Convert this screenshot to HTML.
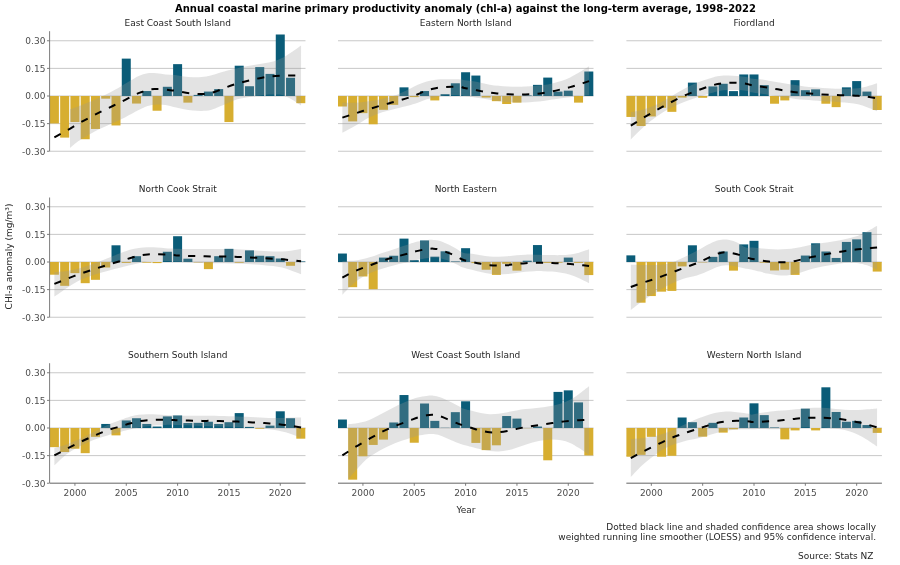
<!DOCTYPE html>
<html lang="en"><head><meta charset="utf-8"><title>Annual coastal marine primary productivity anomaly</title>
<style>html,body{margin:0;padding:0;background:#fff}body{width:900px;height:565px;overflow:hidden}svg{display:block}text{font-family:"DejaVu Sans","Liberation Sans",sans-serif}.t{font-size:9px;fill:#4d4d4d}.s{font-size:9px;fill:#262626}.g{stroke:#c2c2c2;stroke-width:.9}.a{stroke:#6e6e6e;stroke-width:.9;fill:none}.b{fill:#999;fill-opacity:.28}.l{fill:none;stroke:#000;stroke-width:2;stroke-dasharray:7.2 8.3}</style></head><body>
<svg width="900" height="565" viewBox="0 0 900 565">
<rect width="900" height="565" fill="#fff"/>
<text x="465.5" y="11.6" text-anchor="middle" font-size="10" font-weight="bold" fill="#000">Annual coastal marine primary productivity anomaly (chl-a) against the long-term average, 1998–2022</text>
<g>
<text class="s" x="177.75" y="26" text-anchor="middle">East Coast South Island</text>
<line class="g" x1="50" x2="305.5" y1="40.76" y2="40.76"/>
<line class="g" x1="50" x2="305.5" y1="68.38" y2="68.38"/>
<line class="g" x1="50" x2="305.5" y1="96" y2="96"/>
<line class="g" x1="50" x2="305.5" y1="123.62" y2="123.62"/>
<line class="g" x1="50" x2="305.5" y1="151.24" y2="151.24"/>
<rect x="50" y="96" width="8.9" height="27.44" fill="#D7AE30"/>
<rect x="60.17" y="96" width="9" height="41.61" fill="#D7AE30"/>
<rect x="70.43" y="96" width="9" height="26.05" fill="#D7AE30"/>
<rect x="80.7" y="96" width="9" height="43.22" fill="#D7AE30"/>
<rect x="90.97" y="96" width="9" height="32.96" fill="#D7AE30"/>
<rect x="101.23" y="96" width="9" height="2.67" fill="#D7AE30"/>
<rect x="111.5" y="96" width="9" height="29.46" fill="#D7AE30"/>
<rect x="121.77" y="58.62" width="9" height="37.38" fill="#0A5C78"/>
<rect x="132.04" y="96" width="9" height="7.55" fill="#D7AE30"/>
<rect x="142.3" y="91.03" width="9" height="4.97" fill="#0A5C78"/>
<rect x="152.57" y="96" width="9" height="14.73" fill="#D7AE30"/>
<rect x="162.84" y="86.79" width="9" height="9.21" fill="#0A5C78"/>
<rect x="173.1" y="64.14" width="9" height="31.86" fill="#0A5C78"/>
<rect x="183.37" y="96" width="9" height="6.63" fill="#D7AE30"/>
<rect x="193.64" y="94.9" width="9" height="1.1" fill="#0A5C78"/>
<rect x="203.91" y="91.58" width="9" height="4.42" fill="#0A5C78"/>
<rect x="214.17" y="89.09" width="9" height="6.91" fill="#0A5C78"/>
<rect x="224.44" y="96" width="9" height="26.05" fill="#D7AE30"/>
<rect x="234.71" y="65.71" width="9" height="30.29" fill="#0A5C78"/>
<rect x="244.97" y="86.24" width="9" height="9.76" fill="#0A5C78"/>
<rect x="255.24" y="67.09" width="9" height="28.91" fill="#0A5C78"/>
<rect x="265.51" y="73.9" width="9" height="22.1" fill="#0A5C78"/>
<rect x="275.77" y="34.5" width="9" height="61.5" fill="#0A5C78"/>
<rect x="286.04" y="77.77" width="9" height="18.23" fill="#0A5C78"/>
<rect x="296.31" y="96" width="9" height="7.18" fill="#D7AE30"/>
<path class="b" d="M69.99 109.18C71.78 108.54 76.69 106.91 80.7 105.38C84.72 103.86 89.63 101.96 94.09 100.03C98.55 98.1 103.02 96.05 107.48 93.79C111.94 91.52 117.15 88.55 120.87 86.43C124.59 84.31 126.82 82.82 129.79 81.08C132.77 79.33 135.74 77.25 138.72 75.95C141.69 74.65 144.67 73.72 147.64 73.27C150.62 72.82 153.6 73.08 156.57 73.27C159.55 73.46 162.42 74.09 165.5 74.39C168.57 74.68 171.93 74.68 175 75.05C178.07 75.43 180.95 76.24 183.93 76.62C186.9 76.99 189.88 77.21 192.85 77.28C195.83 77.36 198.8 77.36 201.78 77.06C204.75 76.76 207.73 76.21 210.7 75.5C213.68 74.79 216.65 73.68 219.63 72.82C222.6 71.97 225.58 71.15 228.55 70.37C231.53 69.59 234.5 68.81 237.48 68.14C240.45 67.47 243.43 66.92 246.4 66.36C249.38 65.8 252.36 65.32 255.33 64.8C258.31 64.28 261.28 63.79 264.26 63.24C267.23 62.68 270.21 62.31 273.18 61.45C276.16 60.6 279.13 59.59 282.11 58.11C285.08 56.62 287.87 54.65 291.03 52.53C294.19 50.41 299.4 46.58 301.07 45.39L301.07 105.38C299.4 104.31 294.19 100.66 291.03 98.92C287.87 97.17 285.08 95.65 282.11 94.9C279.13 94.16 276.16 94.46 273.18 94.46C270.21 94.46 267.23 94.64 264.26 94.9C261.28 95.16 258.31 95.57 255.33 96.02C252.36 96.46 249.38 97.02 246.4 97.58C243.43 98.14 240.45 98.51 237.48 99.36C234.5 100.22 231.53 101.52 228.55 102.71C225.58 103.9 222.6 105.27 219.63 106.5C216.65 107.73 213.68 109.32 210.7 110.07C207.73 110.81 204.75 110.88 201.78 110.96C198.8 111.03 195.83 110.81 192.85 110.51C189.88 110.22 186.9 109.73 183.93 109.18C180.95 108.62 178.07 107.87 175 107.17C171.93 106.46 168.57 105.38 165.5 104.94C162.42 104.49 159.55 104.31 156.57 104.49C153.6 104.68 150.62 105.12 147.64 106.05C144.67 106.98 142.44 108.21 138.72 110.07C135 111.93 129.79 114.97 125.33 117.2C120.87 119.43 116.4 121.4 111.94 123.45C107.48 125.49 103.02 127.24 98.55 129.47C94.09 131.7 88.88 134.6 85.17 136.83C81.45 139.06 78.77 140.99 76.24 142.85C73.71 144.71 71.03 147.12 69.99 147.98Z"/>
<path class="l" d="M54.37 137.27C56.53 136.08 62.93 132.63 67.31 130.14C71.7 127.65 76.24 124.82 80.7 122.33C85.17 119.84 89.63 117.5 94.09 115.2C98.55 112.89 103.02 110.7 107.48 108.51C111.94 106.31 116.4 104.27 120.87 102.04C125.33 99.81 130.91 96.76 134.26 95.13C137.6 93.49 138.72 93.08 140.95 92.23C143.18 91.37 145.41 90.52 147.64 90C149.88 89.48 152.11 89.25 154.34 89.1C156.57 88.96 158.43 88.92 161.03 89.1C163.64 89.29 167.63 89.96 169.96 90.22C172.29 90.48 173.04 90.37 175 90.67C176.96 90.96 179.09 91.56 181.69 92C184.3 92.45 187.64 93.01 190.62 93.34C193.6 93.68 196.57 93.97 199.55 94.01C202.52 94.05 205.5 94.08 208.47 93.56C211.45 93.04 214.42 91.93 217.4 90.89C220.37 89.85 223.35 88.44 226.32 87.32C229.3 86.21 232.27 85.13 235.25 84.2C238.22 83.27 241.2 82.53 244.17 81.75C247.15 80.96 250.12 80.18 253.1 79.52C256.07 78.85 259.05 78.25 262.02 77.73C265 77.21 267.98 76.73 270.95 76.39C273.93 76.06 276.9 75.87 279.88 75.72C282.85 75.58 286.2 75.54 288.8 75.5C291.4 75.46 294.38 75.5 295.5 75.5"/>
<line class="a" x1="49.6" x2="49.6" y1="31.2" y2="151.2"/>
<line class="a" x1="47" x2="49.6" y1="40.76" y2="40.76"/>
<text class="t" x="45.4" y="44.06" text-anchor="end">0.30</text>
<line class="a" x1="47" x2="49.6" y1="68.38" y2="68.38"/>
<text class="t" x="45.4" y="71.68" text-anchor="end">0.15</text>
<line class="a" x1="47" x2="49.6" y1="96" y2="96"/>
<text class="t" x="45.4" y="99.3" text-anchor="end">0.00</text>
<line class="a" x1="47" x2="49.6" y1="123.62" y2="123.62"/>
<text class="t" x="45.4" y="126.92" text-anchor="end">-0.15</text>
<line class="a" x1="47" x2="49.6" y1="151.24" y2="151.24"/>
<text class="t" x="45.4" y="154.54" text-anchor="end">-0.30</text>
</g>
<g>
<text class="s" x="465.75" y="26" text-anchor="middle">Eastern North Island</text>
<line class="g" x1="338" x2="593.5" y1="40.76" y2="40.76"/>
<line class="g" x1="338" x2="593.5" y1="68.38" y2="68.38"/>
<line class="g" x1="338" x2="593.5" y1="96" y2="96"/>
<line class="g" x1="338" x2="593.5" y1="123.62" y2="123.62"/>
<line class="g" x1="338" x2="593.5" y1="151.24" y2="151.24"/>
<rect x="338" y="96" width="8.9" height="10.5" fill="#D7AE30"/>
<rect x="348.17" y="96" width="9" height="25.41" fill="#D7AE30"/>
<rect x="358.43" y="96" width="9" height="17.12" fill="#D7AE30"/>
<rect x="368.7" y="96" width="9" height="28.28" fill="#D7AE30"/>
<rect x="378.97" y="96" width="9" height="13.81" fill="#D7AE30"/>
<rect x="389.23" y="96" width="9" height="8.84" fill="#D7AE30"/>
<rect x="399.5" y="87.35" width="9" height="8.65" fill="#0A5C78"/>
<rect x="409.77" y="96" width="9" height="1.1" fill="#D7AE30"/>
<rect x="420.04" y="91.03" width="9" height="4.97" fill="#0A5C78"/>
<rect x="430.3" y="96" width="9" height="4.42" fill="#D7AE30"/>
<rect x="440.57" y="94.16" width="9" height="1.84" fill="#0A5C78"/>
<rect x="450.84" y="83.29" width="9" height="12.71" fill="#0A5C78"/>
<rect x="461.1" y="72.25" width="9" height="23.75" fill="#0A5C78"/>
<rect x="471.37" y="75.56" width="9" height="20.44" fill="#0A5C78"/>
<rect x="481.64" y="96" width="9" height="1.57" fill="#D7AE30"/>
<rect x="491.9" y="96" width="9" height="5.16" fill="#D7AE30"/>
<rect x="502.17" y="96" width="9" height="8.01" fill="#D7AE30"/>
<rect x="512.44" y="96" width="9" height="6.63" fill="#D7AE30"/>
<rect x="522.71" y="95.45" width="9" height="0.55" fill="#0A5C78"/>
<rect x="532.97" y="84.86" width="9" height="11.14" fill="#0A5C78"/>
<rect x="543.24" y="77.59" width="9" height="18.41" fill="#0A5C78"/>
<rect x="553.51" y="91.58" width="9" height="4.42" fill="#0A5C78"/>
<rect x="563.77" y="90.66" width="9" height="5.34" fill="#0A5C78"/>
<rect x="574.04" y="96" width="9" height="6.63" fill="#D7AE30"/>
<rect x="584.31" y="71.51" width="9" height="24.49" fill="#0A5C78"/>
<path class="b" d="M342.37 102.71C344.53 102.71 350.93 102.97 355.31 102.71C359.7 102.45 364.24 101.78 368.7 101.15C373.17 100.52 377.63 99.88 382.09 98.92C386.55 97.95 391.02 96.95 395.48 95.35C399.94 93.75 405.15 91.07 408.87 89.33C412.59 87.58 414.82 86.17 417.79 84.87C420.77 83.57 423.74 82.38 426.72 81.52C429.69 80.67 432.67 80.11 435.64 79.74C438.62 79.37 441.6 79.37 444.57 79.29C447.55 79.22 450.52 79.25 453.5 79.29C456.47 79.33 460.84 79.4 462.42 79.52C464.01 79.63 461.42 79.7 463 79.96C464.58 80.22 468.95 80.59 471.93 81.08C474.9 81.56 477.88 82.27 480.85 82.86C483.83 83.45 486.8 84.16 489.78 84.64C492.75 85.13 495.73 85.46 498.7 85.76C501.68 86.06 504.65 86.28 507.63 86.43C510.6 86.58 513.58 86.65 516.55 86.65C519.53 86.65 522.5 86.54 525.48 86.43C528.45 86.32 531.43 86.21 534.4 85.98C537.38 85.76 540.36 85.5 543.33 85.09C546.31 84.68 549.28 84.2 552.26 83.53C555.23 82.86 558.21 82.08 561.18 81.08C564.16 80.07 567.13 78.92 570.11 77.51C573.08 76.1 575.87 74.46 579.03 72.6C582.19 70.74 587.4 67.4 589.07 66.36L589.07 95.35C587.4 95.46 582.19 95.72 579.03 96.02C575.87 96.32 573.08 96.76 570.11 97.13C567.13 97.5 564.16 97.84 561.18 98.25C558.21 98.66 555.23 99.14 552.26 99.59C549.28 100.03 546.31 100.55 543.33 100.92C540.36 101.3 537.38 101.56 534.4 101.82C531.43 102.08 528.45 102.37 525.48 102.48C522.5 102.6 519.53 102.56 516.55 102.48C513.58 102.41 510.6 102.26 507.63 102.04C504.65 101.82 501.68 101.52 498.7 101.15C495.73 100.78 492.75 100.29 489.78 99.81C486.8 99.33 483.83 98.73 480.85 98.25C477.88 97.76 474.9 97.32 471.93 96.91C468.95 96.5 464.58 96.05 463 95.79C461.42 95.53 464.01 95.5 462.42 95.35C460.84 95.2 456.47 94.9 453.5 94.9C450.52 94.9 447.55 94.98 444.57 95.35C441.6 95.72 438.62 96.46 435.64 97.13C432.67 97.8 429.69 98.43 426.72 99.36C423.74 100.29 420.77 101.7 417.79 102.71C414.82 103.71 412.59 104.38 408.87 105.38C405.15 106.39 399.94 107.58 395.48 108.73C391.02 109.88 386.55 110.81 382.09 112.3C377.63 113.78 373.17 115.42 368.7 117.65C364.24 119.88 359.7 123.15 355.31 125.68C350.93 128.21 344.53 131.62 342.37 132.81Z"/>
<path class="l" d="M342.37 117.65C344.53 116.94 350.93 114.82 355.31 113.41C359.7 112 364.24 110.55 368.7 109.18C373.17 107.8 377.63 106.42 382.09 105.16C386.55 103.9 391.02 102.86 395.48 101.59C399.94 100.33 405.15 98.81 408.87 97.58C412.59 96.35 414.82 95.42 417.79 94.23C420.77 93.04 423.74 91.45 426.72 90.44C429.69 89.44 432.67 88.77 435.64 88.21C438.62 87.65 441.6 87.32 444.57 87.1C447.55 86.87 450.52 86.84 453.5 86.87C456.47 86.91 460.84 87.17 462.42 87.32C464.01 87.47 461.42 87.43 463 87.77C464.58 88.1 468.95 88.77 471.93 89.33C474.9 89.88 477.88 90.55 480.85 91.11C483.83 91.67 486.8 92.26 489.78 92.67C492.75 93.08 495.73 93.3 498.7 93.56C501.68 93.82 504.65 94.08 507.63 94.23C510.6 94.38 513.58 94.42 516.55 94.46C519.53 94.49 522.5 94.53 525.48 94.46C528.45 94.38 531.43 94.27 534.4 94.01C537.38 93.75 540.36 93.34 543.33 92.9C546.31 92.45 549.28 91.93 552.26 91.33C555.23 90.74 558.21 90.03 561.18 89.33C564.16 88.62 567.13 87.92 570.11 87.1C573.08 86.28 575.87 85.42 579.03 84.42C582.19 83.42 587.4 81.63 589.07 81.08"/>
</g>
<g>
<text class="s" x="754.15" y="26" text-anchor="middle">Fiordland</text>
<line class="g" x1="626.4" x2="881.9" y1="40.76" y2="40.76"/>
<line class="g" x1="626.4" x2="881.9" y1="68.38" y2="68.38"/>
<line class="g" x1="626.4" x2="881.9" y1="96" y2="96"/>
<line class="g" x1="626.4" x2="881.9" y1="123.62" y2="123.62"/>
<line class="g" x1="626.4" x2="881.9" y1="151.24" y2="151.24"/>
<rect x="626.4" y="96" width="8.9" height="20.94" fill="#D7AE30"/>
<rect x="636.57" y="96" width="9" height="30.01" fill="#D7AE30"/>
<rect x="646.83" y="96" width="9" height="20.44" fill="#D7AE30"/>
<rect x="657.1" y="96" width="9" height="11.78" fill="#D7AE30"/>
<rect x="667.37" y="96" width="9" height="15.84" fill="#D7AE30"/>
<rect x="677.63" y="96" width="9" height="1.57" fill="#D7AE30"/>
<rect x="687.9" y="82.63" width="9" height="13.37" fill="#0A5C78"/>
<rect x="698.17" y="96" width="9" height="1.79" fill="#D7AE30"/>
<rect x="708.44" y="86.43" width="9" height="9.57" fill="#0A5C78"/>
<rect x="718.7" y="83.76" width="9" height="12.24" fill="#0A5C78"/>
<rect x="728.97" y="91.1" width="9" height="4.9" fill="#0A5C78"/>
<rect x="739.24" y="74.46" width="9" height="21.54" fill="#0A5C78"/>
<rect x="749.5" y="74.46" width="9" height="21.54" fill="#0A5C78"/>
<rect x="759.77" y="85.14" width="9" height="10.86" fill="#0A5C78"/>
<rect x="770.04" y="96" width="9" height="7.73" fill="#D7AE30"/>
<rect x="780.3" y="96" width="9" height="4.42" fill="#D7AE30"/>
<rect x="790.57" y="80.16" width="9" height="15.84" fill="#0A5C78"/>
<rect x="800.84" y="90.2" width="9" height="5.8" fill="#0A5C78"/>
<rect x="811.11" y="89.37" width="9" height="6.63" fill="#0A5C78"/>
<rect x="821.37" y="96" width="9" height="7.73" fill="#D7AE30"/>
<rect x="831.64" y="96" width="9" height="11.14" fill="#D7AE30"/>
<rect x="841.91" y="87.35" width="9" height="8.65" fill="#0A5C78"/>
<rect x="852.17" y="81.09" width="9" height="14.91" fill="#0A5C78"/>
<rect x="862.44" y="91.58" width="9" height="4.42" fill="#0A5C78"/>
<rect x="872.71" y="96" width="9" height="13.99" fill="#D7AE30"/>
<path class="b" d="M630.82 112.3C632.9 111.85 639 110.92 643.31 109.62C647.63 108.32 652.24 106.57 656.7 104.49C661.17 102.41 665.63 99.66 670.09 97.13C674.55 94.61 679.02 91.71 683.48 89.33C687.94 86.95 692.4 84.72 696.87 82.86C701.33 81 706.54 79.33 710.26 78.18C713.98 77.02 716.21 76.39 719.18 75.95C722.16 75.5 725.13 75.5 728.11 75.5C731.08 75.5 734.06 75.69 737.03 75.95C740.01 76.21 743.63 76.65 745.96 77.06C748.29 77.47 748.67 78.03 751 78.4C753.33 78.77 756.95 78.92 759.93 79.29C762.9 79.66 765.88 80.15 768.85 80.63C771.83 81.11 774.8 81.67 777.78 82.19C780.75 82.71 783.73 83.27 786.7 83.75C789.68 84.24 792.65 84.64 795.63 85.09C798.6 85.54 801.58 86.06 804.55 86.43C807.53 86.8 810.5 87.06 813.48 87.32C816.45 87.58 819.43 87.8 822.4 87.99C825.38 88.18 828.36 88.32 831.33 88.44C834.31 88.55 837.28 88.62 840.26 88.66C843.23 88.7 846.21 88.73 849.18 88.66C852.16 88.58 855.13 88.58 858.11 88.21C861.08 87.84 863.87 87.25 867.03 86.43C870.19 85.61 875.4 83.83 877.07 83.31L877.07 111.18C875.4 110.51 870.19 108.32 867.03 107.17C863.87 106.02 861.08 104.98 858.11 104.27C855.13 103.56 852.16 103.27 849.18 102.93C846.21 102.6 843.23 102.48 840.26 102.26C837.28 102.04 834.31 101.78 831.33 101.59C828.36 101.41 825.38 101.33 822.4 101.15C819.43 100.96 816.45 100.7 813.48 100.48C810.5 100.25 807.53 100.07 804.55 99.81C801.58 99.55 798.6 99.25 795.63 98.92C792.65 98.58 789.68 98.21 786.7 97.8C783.73 97.39 780.75 96.95 777.78 96.46C774.8 95.98 771.83 95.39 768.85 94.9C765.88 94.42 762.9 94.01 759.93 93.56C756.95 93.12 753.33 92.71 751 92.23C748.67 91.74 748.29 91.04 745.96 90.67C743.63 90.29 740.01 90.11 737.03 90C734.06 89.88 731.08 89.85 728.11 90C725.13 90.15 722.16 90.33 719.18 90.89C716.21 91.45 713.98 92.23 710.26 93.34C706.54 94.46 701.33 96.09 696.87 97.58C692.4 99.07 687.94 100.48 683.48 102.26C679.02 104.05 674.55 105.9 670.09 108.28C665.63 110.66 661.17 113.38 656.7 116.53C652.24 119.69 647.63 123.41 643.31 127.24C639 131.07 632.9 137.46 630.82 139.5Z"/>
<path class="l" d="M630.82 125.68C632.9 124.38 639 120.47 643.31 117.87C647.63 115.27 652.24 112.59 656.7 110.07C661.17 107.54 665.63 105.05 670.09 102.71C674.55 100.37 679.02 98.02 683.48 96.02C687.94 94.01 692.4 92.34 696.87 90.67C701.33 88.99 706.54 87.13 710.26 85.98C713.98 84.83 716.21 84.27 719.18 83.75C722.16 83.23 725.13 83.01 728.11 82.86C731.08 82.71 734.06 82.71 737.03 82.86C740.01 83.01 743.63 83.38 745.96 83.75C748.29 84.12 748.67 84.64 751 85.09C753.33 85.54 756.95 85.98 759.93 86.43C762.9 86.87 765.88 87.28 768.85 87.77C771.83 88.25 774.8 88.81 777.78 89.33C780.75 89.85 783.73 90.41 786.7 90.89C789.68 91.37 792.65 91.85 795.63 92.23C798.6 92.6 801.58 92.86 804.55 93.12C807.53 93.38 810.5 93.56 813.48 93.79C816.45 94.01 819.43 94.27 822.4 94.46C825.38 94.64 828.36 94.79 831.33 94.9C834.31 95.01 837.28 95.05 840.26 95.13C843.23 95.2 846.21 95.24 849.18 95.35C852.16 95.46 855.13 95.57 858.11 95.79C861.08 96.02 863.87 96.28 867.03 96.69C870.19 97.1 875.4 97.99 877.07 98.25"/>
</g>
<g>
<text class="s" x="177.75" y="192.3" text-anchor="middle">North Cook Strait</text>
<line class="g" x1="50" x2="305.5" y1="206.76" y2="206.76"/>
<line class="g" x1="50" x2="305.5" y1="234.38" y2="234.38"/>
<line class="g" x1="50" x2="305.5" y1="262" y2="262"/>
<line class="g" x1="50" x2="305.5" y1="289.62" y2="289.62"/>
<line class="g" x1="50" x2="305.5" y1="317.24" y2="317.24"/>
<rect x="50" y="262" width="8.9" height="12.71" fill="#D7AE30"/>
<rect x="60.17" y="262" width="9" height="23.83" fill="#D7AE30"/>
<rect x="70.43" y="262" width="9" height="11.14" fill="#D7AE30"/>
<rect x="80.7" y="262" width="9" height="21.18" fill="#D7AE30"/>
<rect x="90.97" y="262" width="9" height="17.82" fill="#D7AE30"/>
<rect x="101.23" y="262" width="9" height="5.52" fill="#D7AE30"/>
<rect x="111.5" y="245.3" width="9" height="16.7" fill="#0A5C78"/>
<rect x="121.77" y="262" width="9" height="0.92" fill="#D7AE30"/>
<rect x="132.04" y="256.2" width="9" height="5.8" fill="#0A5C78"/>
<rect x="142.3" y="262" width="9" height="0.66" fill="#D7AE30"/>
<rect x="152.57" y="262" width="9" height="1.1" fill="#D7AE30"/>
<rect x="162.84" y="251.76" width="9" height="10.24" fill="#0A5C78"/>
<rect x="173.1" y="236.22" width="9" height="25.78" fill="#0A5C78"/>
<rect x="183.37" y="258.69" width="9" height="3.31" fill="#0A5C78"/>
<rect x="193.64" y="262" width="9" height="0.37" fill="#D7AE30"/>
<rect x="203.91" y="262" width="9" height="7.13" fill="#D7AE30"/>
<rect x="214.17" y="256.2" width="9" height="5.8" fill="#0A5C78"/>
<rect x="224.44" y="248.85" width="9" height="13.15" fill="#0A5C78"/>
<rect x="234.71" y="262" width="9" height="0.74" fill="#D7AE30"/>
<rect x="244.97" y="250.4" width="9" height="11.6" fill="#0A5C78"/>
<rect x="255.24" y="255.74" width="9" height="6.26" fill="#0A5C78"/>
<rect x="265.51" y="256.2" width="9" height="5.8" fill="#0A5C78"/>
<rect x="275.77" y="258.5" width="9" height="3.5" fill="#0A5C78"/>
<rect x="286.04" y="262" width="9" height="3.79" fill="#D7AE30"/>
<rect x="296.31" y="261.45" width="9" height="0.55" fill="#0A5C78"/>
<path class="b" d="M54.37 272.05C56.53 271.87 62.93 271.61 67.31 270.94C71.7 270.27 76.24 269.27 80.7 268.04C85.17 266.81 89.63 265.21 94.09 263.58C98.55 261.94 103.02 259.97 107.48 258.23C111.94 256.48 117.15 254.51 120.87 253.1C124.59 251.68 126.82 250.61 129.79 249.75C132.77 248.9 135.74 248.38 138.72 247.97C141.69 247.56 144.67 247.37 147.64 247.3C150.62 247.22 153.6 247.37 156.57 247.52C159.55 247.67 162.52 248.01 165.5 248.19C168.47 248.38 172.84 248.53 174.42 248.64C176.01 248.75 173.42 248.79 175 248.86C176.58 248.93 180.95 249.05 183.93 249.08C186.9 249.12 189.88 249.08 192.85 249.08C195.83 249.08 198.8 249.08 201.78 249.08C204.75 249.08 207.73 249.08 210.7 249.08C213.68 249.08 216.65 249.08 219.63 249.08C222.6 249.08 225.58 249.05 228.55 249.08C231.53 249.12 234.5 249.19 237.48 249.31C240.45 249.42 243.43 249.57 246.4 249.75C249.38 249.94 252.36 250.2 255.33 250.42C258.31 250.64 261.28 250.9 264.26 251.09C267.23 251.28 270.21 251.46 273.18 251.54C276.16 251.61 279.13 251.68 282.11 251.54C285.08 251.39 287.87 251.13 291.03 250.64C294.19 250.16 299.4 248.97 301.07 248.64L301.07 274.28C299.4 273.65 294.19 271.61 291.03 270.49C287.87 269.38 285.08 268.34 282.11 267.59C279.13 266.85 276.16 266.44 273.18 266.03C270.21 265.62 267.23 265.4 264.26 265.14C261.28 264.88 258.31 264.66 255.33 264.47C252.36 264.28 249.38 264.14 246.4 264.02C243.43 263.91 240.45 263.88 237.48 263.8C234.5 263.73 231.53 263.65 228.55 263.58C225.58 263.5 222.6 263.43 219.63 263.36C216.65 263.28 213.68 263.21 210.7 263.13C207.73 263.06 204.75 263.02 201.78 262.91C198.8 262.8 195.83 262.61 192.85 262.46C189.88 262.32 186.9 262.17 183.93 262.02C180.95 261.87 176.58 261.68 175 261.57C173.42 261.46 176.01 261.46 174.42 261.35C172.84 261.24 168.47 260.98 165.5 260.9C162.52 260.83 159.55 260.79 156.57 260.9C153.6 261.01 150.62 261.2 147.64 261.57C144.67 261.94 141.69 262.5 138.72 263.13C135.74 263.76 132.77 264.62 129.79 265.36C126.82 266.11 124.59 266.66 120.87 267.59C117.15 268.52 111.94 269.75 107.48 270.94C103.02 272.13 98.55 273.24 94.09 274.73C89.63 276.22 85.17 277.7 80.7 279.86C76.24 282.01 71.7 284.88 67.31 287.66C62.93 290.45 56.53 295.1 54.37 296.58Z"/>
<path class="l" d="M54.37 283.87C56.53 283.02 62.93 280.45 67.31 278.74C71.7 277.03 76.24 275.21 80.7 273.61C85.17 272.02 89.63 270.6 94.09 269.15C98.55 267.7 103.02 266.29 107.48 264.92C111.94 263.54 117.15 262.02 120.87 260.9C124.59 259.79 126.82 259.08 129.79 258.23C132.77 257.37 135.74 256.41 138.72 255.77C141.69 255.14 144.67 254.7 147.64 254.44C150.62 254.18 153.6 254.21 156.57 254.21C159.55 254.21 162.52 254.32 165.5 254.44C168.47 254.55 172.84 254.73 174.42 254.88C176.01 255.03 173.42 255.18 175 255.33C176.58 255.48 180.95 255.66 183.93 255.77C186.9 255.88 189.88 255.92 192.85 256C195.83 256.07 198.8 256.15 201.78 256.22C204.75 256.29 207.73 256.41 210.7 256.44C213.68 256.48 216.65 256.41 219.63 256.44C222.6 256.48 225.58 256.59 228.55 256.67C231.53 256.74 234.5 256.78 237.48 256.89C240.45 257 243.43 257.19 246.4 257.33C249.38 257.48 252.36 257.63 255.33 257.78C258.31 257.93 261.28 258.08 264.26 258.23C267.23 258.38 270.21 258.49 273.18 258.67C276.16 258.86 279.13 259.08 282.11 259.34C285.08 259.6 287.87 259.9 291.03 260.23C294.19 260.57 299.4 261.16 301.07 261.35"/>
<line class="a" x1="49.6" x2="49.6" y1="197.5" y2="317.2"/>
<line class="a" x1="47" x2="49.6" y1="206.76" y2="206.76"/>
<text class="t" x="45.4" y="210.06" text-anchor="end">0.30</text>
<line class="a" x1="47" x2="49.6" y1="234.38" y2="234.38"/>
<text class="t" x="45.4" y="237.68" text-anchor="end">0.15</text>
<line class="a" x1="47" x2="49.6" y1="262" y2="262"/>
<text class="t" x="45.4" y="265.3" text-anchor="end">0.00</text>
<line class="a" x1="47" x2="49.6" y1="289.62" y2="289.62"/>
<text class="t" x="45.4" y="292.92" text-anchor="end">-0.15</text>
<line class="a" x1="47" x2="49.6" y1="317.24" y2="317.24"/>
<text class="t" x="45.4" y="320.54" text-anchor="end">-0.30</text>
</g>
<g>
<text class="s" x="465.75" y="192.3" text-anchor="middle">North Eastern</text>
<line class="g" x1="338" x2="593.5" y1="206.76" y2="206.76"/>
<line class="g" x1="338" x2="593.5" y1="234.38" y2="234.38"/>
<line class="g" x1="338" x2="593.5" y1="262" y2="262"/>
<line class="g" x1="338" x2="593.5" y1="289.62" y2="289.62"/>
<line class="g" x1="338" x2="593.5" y1="317.24" y2="317.24"/>
<rect x="338" y="253.53" width="8.9" height="8.47" fill="#0A5C78"/>
<rect x="348.17" y="262" width="9" height="25.17" fill="#D7AE30"/>
<rect x="358.43" y="262" width="9" height="14.47" fill="#D7AE30"/>
<rect x="368.7" y="262" width="9" height="27.18" fill="#D7AE30"/>
<rect x="378.97" y="257.58" width="9" height="4.42" fill="#0A5C78"/>
<rect x="389.23" y="255.74" width="9" height="6.26" fill="#0A5C78"/>
<rect x="399.5" y="238.62" width="9" height="23.38" fill="#0A5C78"/>
<rect x="409.77" y="260.16" width="9" height="1.84" fill="#0A5C78"/>
<rect x="420.04" y="240.46" width="9" height="21.54" fill="#0A5C78"/>
<rect x="430.3" y="256.66" width="9" height="5.34" fill="#0A5C78"/>
<rect x="440.57" y="251.32" width="9" height="10.68" fill="#0A5C78"/>
<rect x="450.84" y="261.45" width="9" height="0.55" fill="#0A5C78"/>
<rect x="461.1" y="248.19" width="9" height="13.81" fill="#0A5C78"/>
<rect x="471.37" y="262" width="9" height="1.1" fill="#D7AE30"/>
<rect x="481.64" y="262" width="9" height="7.73" fill="#D7AE30"/>
<rect x="491.9" y="262" width="9" height="12.89" fill="#D7AE30"/>
<rect x="502.17" y="262" width="9" height="1.84" fill="#D7AE30"/>
<rect x="512.44" y="262" width="9" height="8.65" fill="#D7AE30"/>
<rect x="522.71" y="260.71" width="9" height="1.29" fill="#0A5C78"/>
<rect x="532.97" y="245.06" width="9" height="16.94" fill="#0A5C78"/>
<rect x="543.24" y="262" width="9" height="0.92" fill="#D7AE30"/>
<rect x="553.51" y="262" width="9" height="0.74" fill="#D7AE30"/>
<rect x="563.77" y="257.58" width="9" height="4.42" fill="#0A5C78"/>
<rect x="574.04" y="262" width="9" height="0.92" fill="#D7AE30"/>
<rect x="584.31" y="262" width="9" height="13.07" fill="#D7AE30"/>
<path class="b" d="M342.37 260.9C344.53 260.83 350.93 261.01 355.31 260.46C359.7 259.9 364.24 258.78 368.7 257.56C373.17 256.33 377.63 254.58 382.09 253.1C386.55 251.61 391.02 250.12 395.48 248.64C399.94 247.15 405.15 245.37 408.87 244.18C412.59 242.99 414.82 242.17 417.79 241.5C420.77 240.83 424.12 240.42 426.72 240.16C429.32 239.9 431.18 239.79 433.41 239.94C435.64 240.09 437.5 240.24 440.11 241.05C442.71 241.87 446.06 243.4 449.03 244.85C452.01 246.3 455.63 248.45 457.96 249.75C460.29 251.05 460.67 251.98 463 252.65C465.33 253.32 468.95 253.32 471.93 253.77C474.9 254.21 477.88 254.88 480.85 255.33C483.83 255.77 486.8 256.22 489.78 256.44C492.75 256.67 495.73 256.7 498.7 256.67C501.68 256.63 504.65 256.44 507.63 256.22C510.6 256 513.58 255.59 516.55 255.33C519.53 255.07 522.5 254.77 525.48 254.66C528.45 254.55 531.43 254.62 534.4 254.66C537.38 254.7 540.36 254.81 543.33 254.88C546.31 254.96 549.28 255.07 552.26 255.1C555.23 255.14 558.21 255.22 561.18 255.1C564.16 254.99 567.13 254.84 570.11 254.44C573.08 254.03 575.87 253.51 579.03 252.65C582.19 251.8 587.4 249.86 589.07 249.31L589.07 283.2C587.4 282.39 582.19 279.71 579.03 278.3C575.87 276.88 573.08 275.66 570.11 274.73C567.13 273.8 564.16 273.24 561.18 272.72C558.21 272.2 555.23 271.87 552.26 271.61C549.28 271.35 546.31 271.24 543.33 271.16C540.36 271.09 537.38 271.05 534.4 271.16C531.43 271.27 528.45 271.53 525.48 271.83C522.5 272.13 519.53 272.57 516.55 272.95C513.58 273.32 510.6 273.8 507.63 274.06C504.65 274.32 501.68 274.54 498.7 274.51C495.73 274.47 492.75 274.25 489.78 273.84C486.8 273.43 483.83 272.72 480.85 272.05C477.88 271.38 474.9 270.57 471.93 269.82C468.95 269.08 465.33 268.41 463 267.59C460.67 266.78 460.29 266.03 457.96 264.92C455.63 263.8 452.01 262.02 449.03 260.9C446.06 259.79 442.71 258.78 440.11 258.23C437.5 257.67 435.64 257.56 433.41 257.56C431.18 257.56 429.32 257.85 426.72 258.23C424.12 258.6 420.77 259.16 417.79 259.79C414.82 260.42 412.59 261.16 408.87 262.02C405.15 262.87 399.94 263.8 395.48 264.92C391.02 266.03 386.55 267.22 382.09 268.71C377.63 270.19 373.17 271.61 368.7 273.84C364.24 276.07 359.7 278.59 355.31 282.09C350.93 285.58 344.53 292.68 342.37 294.8Z"/>
<path class="l" d="M342.37 277.63C344.53 276.51 350.93 272.91 355.31 270.94C359.7 268.97 364.24 267.48 368.7 265.81C373.17 264.14 377.63 262.39 382.09 260.9C386.55 259.42 391.02 258.15 395.48 256.89C399.94 255.62 405.15 254.32 408.87 253.32C412.59 252.32 414.82 251.57 417.79 250.87C420.77 250.16 424.12 249.45 426.72 249.08C429.32 248.71 431.18 248.53 433.41 248.64C435.64 248.75 437.5 249.01 440.11 249.75C442.71 250.5 446.06 251.87 449.03 253.1C452.01 254.32 455.63 256 457.96 257.11C460.29 258.23 460.67 258.97 463 259.79C465.33 260.61 468.95 261.35 471.93 262.02C474.9 262.69 477.88 263.28 480.85 263.8C483.83 264.32 486.8 264.84 489.78 265.14C492.75 265.44 495.73 265.59 498.7 265.59C501.68 265.59 504.65 265.4 507.63 265.14C510.6 264.88 513.58 264.36 516.55 264.02C519.53 263.69 522.5 263.36 525.48 263.13C528.45 262.91 531.43 262.76 534.4 262.69C537.38 262.61 540.36 262.65 543.33 262.69C546.31 262.72 549.28 262.8 552.26 262.91C555.23 263.02 558.21 263.17 561.18 263.36C564.16 263.54 567.13 263.76 570.11 264.02C573.08 264.28 575.87 264.58 579.03 264.92C582.19 265.25 587.4 265.85 589.07 266.03"/>
</g>
<g>
<text class="s" x="754.15" y="192.3" text-anchor="middle">South Cook Strait</text>
<line class="g" x1="626.4" x2="881.9" y1="206.76" y2="206.76"/>
<line class="g" x1="626.4" x2="881.9" y1="234.38" y2="234.38"/>
<line class="g" x1="626.4" x2="881.9" y1="262" y2="262"/>
<line class="g" x1="626.4" x2="881.9" y1="289.62" y2="289.62"/>
<line class="g" x1="626.4" x2="881.9" y1="317.24" y2="317.24"/>
<rect x="626.4" y="255.37" width="8.9" height="6.63" fill="#0A5C78"/>
<rect x="636.57" y="262" width="9" height="40.69" fill="#D7AE30"/>
<rect x="646.83" y="262" width="9" height="34.06" fill="#D7AE30"/>
<rect x="657.1" y="262" width="9" height="29.65" fill="#D7AE30"/>
<rect x="667.37" y="262" width="9" height="28.91" fill="#D7AE30"/>
<rect x="677.63" y="262" width="9" height="4.42" fill="#D7AE30"/>
<rect x="687.9" y="245.3" width="9" height="16.7" fill="#0A5C78"/>
<rect x="698.17" y="262" width="9" height="0.37" fill="#D7AE30"/>
<rect x="708.44" y="256.84" width="9" height="5.16" fill="#0A5C78"/>
<rect x="718.7" y="251.5" width="9" height="10.5" fill="#0A5C78"/>
<rect x="728.97" y="262" width="9" height="8.65" fill="#D7AE30"/>
<rect x="739.24" y="244.4" width="9" height="17.6" fill="#0A5C78"/>
<rect x="749.5" y="240.82" width="9" height="21.18" fill="#0A5C78"/>
<rect x="759.77" y="262" width="9" height="0.74" fill="#D7AE30"/>
<rect x="770.04" y="262" width="9" height="8.47" fill="#D7AE30"/>
<rect x="780.3" y="262" width="9" height="7.73" fill="#D7AE30"/>
<rect x="790.57" y="262" width="9" height="12.89" fill="#D7AE30"/>
<rect x="800.84" y="255.56" width="9" height="6.44" fill="#0A5C78"/>
<rect x="811.11" y="243.29" width="9" height="18.71" fill="#0A5C78"/>
<rect x="821.37" y="251.5" width="9" height="10.5" fill="#0A5C78"/>
<rect x="831.64" y="257.95" width="9" height="4.05" fill="#0A5C78"/>
<rect x="841.91" y="241.93" width="9" height="20.07" fill="#0A5C78"/>
<rect x="852.17" y="239.35" width="9" height="22.65" fill="#0A5C78"/>
<rect x="862.44" y="232.17" width="9" height="29.83" fill="#0A5C78"/>
<rect x="872.71" y="262" width="9" height="9.57" fill="#D7AE30"/>
<path class="b" d="M630.82 264.69C632.9 264.73 639 264.88 643.31 264.92C647.63 264.95 652.24 265.21 656.7 264.92C661.17 264.62 665.63 264.36 670.09 263.13C674.55 261.91 679.02 259.6 683.48 257.56C687.94 255.51 693.15 252.84 696.87 250.87C700.59 248.9 702.82 247.3 705.79 245.74C708.77 244.18 712.12 242.5 714.72 241.5C717.32 240.5 719.18 240.01 721.41 239.72C723.64 239.42 725.5 239.27 728.11 239.72C730.71 240.16 734.06 241.09 737.03 242.39C740.01 243.69 743.63 246.67 745.96 247.52C748.29 248.38 748.67 247.41 751 247.52C753.33 247.63 756.95 247.93 759.93 248.19C762.9 248.45 765.88 248.86 768.85 249.08C771.83 249.31 774.8 249.53 777.78 249.53C780.75 249.53 783.73 249.34 786.7 249.08C789.68 248.82 792.65 248.45 795.63 247.97C798.6 247.48 801.58 246.78 804.55 246.18C807.53 245.59 810.5 244.92 813.48 244.4C816.45 243.88 819.43 243.51 822.4 243.06C825.38 242.62 828.36 242.21 831.33 241.72C834.31 241.24 837.28 240.76 840.26 240.16C843.23 239.57 846.21 238.9 849.18 238.16C852.16 237.41 855.13 236.82 858.11 235.7C861.08 234.59 863.87 233.14 867.03 231.47C870.19 229.79 875.4 226.63 877.07 225.67L877.07 269.82C875.4 269.08 870.19 266.48 867.03 265.36C863.87 264.25 861.08 263.58 858.11 263.13C855.13 262.69 852.16 262.61 849.18 262.69C846.21 262.76 843.23 263.21 840.26 263.58C837.28 263.95 834.31 264.43 831.33 264.92C828.36 265.4 825.38 265.88 822.4 266.48C819.43 267.07 816.45 267.7 813.48 268.48C810.5 269.27 807.53 270.27 804.55 271.16C801.58 272.05 798.6 273.13 795.63 273.84C792.65 274.54 789.68 275.18 786.7 275.4C783.73 275.62 780.75 275.44 777.78 275.18C774.8 274.92 771.83 274.43 768.85 273.84C765.88 273.24 762.9 272.35 759.93 271.61C756.95 270.86 753.33 269.86 751 269.38C748.67 268.89 748.29 269.15 745.96 268.71C743.63 268.26 740.01 267.26 737.03 266.7C734.06 266.14 730.71 265.51 728.11 265.36C725.5 265.21 723.64 265.36 721.41 265.81C719.18 266.25 717.32 267 714.72 268.04C712.12 269.08 708.77 270.83 705.79 272.05C702.82 273.28 700.59 274.28 696.87 275.4C693.15 276.51 687.94 277.26 683.48 278.74C679.02 280.23 674.55 282.09 670.09 284.32C665.63 286.55 661.17 289.45 656.7 292.12C652.24 294.8 647.63 297.4 643.31 300.38C639 303.35 632.9 308.37 630.82 309.96Z"/>
<path class="l" d="M630.82 286.99C632.9 286.25 639 283.98 643.31 282.53C647.63 281.08 652.24 279.86 656.7 278.3C661.17 276.74 665.63 274.88 670.09 273.17C674.55 271.46 679.02 269.71 683.48 268.04C687.94 266.37 693.15 264.62 696.87 263.13C700.59 261.65 702.82 260.49 705.79 259.12C708.77 257.74 712.12 255.96 714.72 254.88C717.32 253.8 719.18 253.06 721.41 252.65C723.64 252.24 725.5 252.17 728.11 252.43C730.71 252.69 734.06 253.39 737.03 254.21C740.01 255.03 743.63 256.59 745.96 257.33C748.29 258.08 748.67 258.19 751 258.67C753.33 259.16 756.95 259.75 759.93 260.23C762.9 260.72 765.88 261.24 768.85 261.57C771.83 261.91 774.8 262.13 777.78 262.24C780.75 262.35 783.73 262.46 786.7 262.24C789.68 262.02 792.65 261.5 795.63 260.9C798.6 260.31 801.58 259.38 804.55 258.67C807.53 257.97 810.5 257.3 813.48 256.67C816.45 256.03 819.43 255.44 822.4 254.88C825.38 254.32 828.36 253.84 831.33 253.32C834.31 252.8 837.28 252.24 840.26 251.76C843.23 251.28 846.21 250.83 849.18 250.42C852.16 250.01 855.13 249.64 858.11 249.31C861.08 248.97 863.87 248.71 867.03 248.41C870.19 248.12 875.4 247.67 877.07 247.52"/>
</g>
<g>
<text class="s" x="177.75" y="358" text-anchor="middle">Southern South Island</text>
<line class="g" x1="50" x2="305.5" y1="372.76" y2="372.76"/>
<line class="g" x1="50" x2="305.5" y1="400.38" y2="400.38"/>
<line class="g" x1="50" x2="305.5" y1="428" y2="428"/>
<line class="g" x1="50" x2="305.5" y1="455.62" y2="455.62"/>
<line class="g" x1="50" x2="305.5" y1="483.24" y2="483.24"/>
<rect x="50" y="428" width="8.9" height="19.15" fill="#D7AE30"/>
<rect x="60.17" y="428" width="9" height="24.05" fill="#D7AE30"/>
<rect x="70.43" y="428" width="9" height="20.72" fill="#D7AE30"/>
<rect x="80.7" y="428" width="9" height="25.17" fill="#D7AE30"/>
<rect x="90.97" y="428" width="9" height="8.84" fill="#D7AE30"/>
<rect x="101.23" y="423.95" width="9" height="4.05" fill="#0A5C78"/>
<rect x="111.5" y="428" width="9" height="7.37" fill="#D7AE30"/>
<rect x="121.77" y="420.45" width="9" height="7.55" fill="#0A5C78"/>
<rect x="132.04" y="418.24" width="9" height="9.76" fill="#0A5C78"/>
<rect x="142.3" y="423.95" width="9" height="4.05" fill="#0A5C78"/>
<rect x="152.57" y="426.53" width="9" height="1.47" fill="#0A5C78"/>
<rect x="162.84" y="416.4" width="9" height="11.6" fill="#0A5C78"/>
<rect x="173.1" y="415.48" width="9" height="12.52" fill="#0A5C78"/>
<rect x="183.37" y="423.03" width="9" height="4.97" fill="#0A5C78"/>
<rect x="193.64" y="422.84" width="9" height="5.16" fill="#0A5C78"/>
<rect x="203.91" y="421.74" width="9" height="6.26" fill="#0A5C78"/>
<rect x="214.17" y="423.95" width="9" height="4.05" fill="#0A5C78"/>
<rect x="224.44" y="422.2" width="9" height="5.8" fill="#0A5C78"/>
<rect x="234.71" y="413.09" width="9" height="14.91" fill="#0A5C78"/>
<rect x="244.97" y="426.9" width="9" height="1.1" fill="#0A5C78"/>
<rect x="255.24" y="428" width="9" height="0.74" fill="#D7AE30"/>
<rect x="265.51" y="425.61" width="9" height="2.39" fill="#0A5C78"/>
<rect x="275.77" y="411.3" width="9" height="16.7" fill="#0A5C78"/>
<rect x="286.04" y="418.24" width="9" height="9.76" fill="#0A5C78"/>
<rect x="296.31" y="428" width="9" height="10.68" fill="#D7AE30"/>
<path class="b" d="M54.37 448.09C56.53 447.46 62.93 445.9 67.31 444.3C71.7 442.7 76.24 440.58 80.7 438.5C85.17 436.42 89.63 434.04 94.09 431.81C98.55 429.58 103.02 427.13 107.48 425.12C111.94 423.11 117.15 421.18 120.87 419.77C124.59 418.35 126.82 417.46 129.79 416.64C132.77 415.83 135.74 415.27 138.72 414.86C141.69 414.45 144.67 414.27 147.64 414.19C150.62 414.12 153.6 414.27 156.57 414.41C159.55 414.56 162.52 414.9 165.5 415.08C168.47 415.27 172.84 415.42 174.42 415.53C176.01 415.64 173.42 415.72 175 415.75C176.58 415.79 180.95 415.75 183.93 415.75C186.9 415.75 189.88 415.75 192.85 415.75C195.83 415.75 198.8 415.75 201.78 415.75C204.75 415.75 207.73 415.72 210.7 415.75C213.68 415.79 216.65 415.9 219.63 415.98C222.6 416.05 225.58 416.12 228.55 416.2C231.53 416.27 234.5 416.31 237.48 416.42C240.45 416.53 243.43 416.72 246.4 416.87C249.38 417.02 252.36 417.16 255.33 417.31C258.31 417.46 261.28 417.65 264.26 417.76C267.23 417.87 270.21 417.95 273.18 417.98C276.16 418.02 279.13 418.06 282.11 417.98C285.08 417.91 287.87 417.61 291.03 417.54C294.19 417.46 299.4 417.54 301.07 417.54L301.07 438.05C299.4 437.38 294.19 435.12 291.03 434.04C287.87 432.96 285.08 432.29 282.11 431.59C279.13 430.88 276.16 430.28 273.18 429.8C270.21 429.32 267.23 429.02 264.26 428.69C261.28 428.35 258.31 428.02 255.33 427.79C252.36 427.57 249.38 427.5 246.4 427.35C243.43 427.2 240.45 427.01 237.48 426.9C234.5 426.79 231.53 426.75 228.55 426.68C225.58 426.61 222.6 426.53 219.63 426.46C216.65 426.38 213.68 426.31 210.7 426.23C207.73 426.16 204.75 426.12 201.78 426.01C198.8 425.9 195.83 425.68 192.85 425.56C189.88 425.45 186.9 425.42 183.93 425.34C180.95 425.27 176.58 425.19 175 425.12C173.42 425.04 176.01 424.93 174.42 424.9C172.84 424.86 168.47 424.82 165.5 424.9C162.52 424.97 159.55 425.12 156.57 425.34C153.6 425.56 150.62 425.86 147.64 426.23C144.67 426.61 141.69 427.01 138.72 427.57C135.74 428.13 132.77 428.87 129.79 429.58C126.82 430.28 124.59 430.84 120.87 431.81C117.15 432.78 111.94 434.04 107.48 435.38C103.02 436.72 98.55 438.13 94.09 439.84C89.63 441.55 85.17 443.33 80.7 445.64C76.24 447.94 71.7 450.39 67.31 453.66C62.93 456.93 56.53 463.33 54.37 465.26Z"/>
<path class="l" d="M54.37 455.45C56.53 454.3 62.93 450.8 67.31 448.53C71.7 446.27 76.24 443.96 80.7 441.84C85.17 439.73 89.63 437.76 94.09 435.82C98.55 433.89 103.02 431.85 107.48 430.25C111.94 428.65 117.15 427.35 120.87 426.23C124.59 425.12 126.82 424.38 129.79 423.56C132.77 422.74 135.74 421.88 138.72 421.33C141.69 420.77 144.67 420.47 147.64 420.21C150.62 419.95 153.6 419.84 156.57 419.77C159.55 419.69 162.52 419.73 165.5 419.77C168.47 419.8 172.84 419.92 174.42 419.99C176.01 420.06 173.42 420.14 175 420.21C176.58 420.29 180.95 420.36 183.93 420.44C186.9 420.51 189.88 420.58 192.85 420.66C195.83 420.73 198.8 420.84 201.78 420.88C204.75 420.92 207.73 420.84 210.7 420.88C213.68 420.92 216.65 421.03 219.63 421.1C222.6 421.18 225.58 421.25 228.55 421.33C231.53 421.4 234.5 421.44 237.48 421.55C240.45 421.66 243.43 421.85 246.4 422C249.38 422.15 252.36 422.26 255.33 422.44C258.31 422.63 261.28 422.89 264.26 423.11C267.23 423.33 270.21 423.52 273.18 423.78C276.16 424.04 279.13 424.34 282.11 424.67C285.08 425.01 287.87 425.3 291.03 425.79C294.19 426.27 299.4 427.27 301.07 427.57"/>
<line class="a" x1="49.6" x2="49.6" y1="363.2" y2="483.2"/>
<line class="a" x1="47" x2="49.6" y1="372.76" y2="372.76"/>
<text class="t" x="45.4" y="376.06" text-anchor="end">0.30</text>
<line class="a" x1="47" x2="49.6" y1="400.38" y2="400.38"/>
<text class="t" x="45.4" y="403.68" text-anchor="end">0.15</text>
<line class="a" x1="47" x2="49.6" y1="428" y2="428"/>
<text class="t" x="45.4" y="431.3" text-anchor="end">0.00</text>
<line class="a" x1="47" x2="49.6" y1="455.62" y2="455.62"/>
<text class="t" x="45.4" y="458.92" text-anchor="end">-0.15</text>
<line class="a" x1="47" x2="49.6" y1="483.24" y2="483.24"/>
<text class="t" x="45.4" y="486.54" text-anchor="end">-0.30</text>
<line class="a" x1="50" x2="305.5" y1="483.2" y2="483.2"/>
<line class="a" x1="74.93" x2="74.93" y1="483.2" y2="485.8"/>
<text class="t" x="74.93" y="495.7" text-anchor="middle">2000</text>
<line class="a" x1="126.27" x2="126.27" y1="483.2" y2="485.8"/>
<text class="t" x="126.27" y="495.7" text-anchor="middle">2005</text>
<line class="a" x1="177.6" x2="177.6" y1="483.2" y2="485.8"/>
<text class="t" x="177.6" y="495.7" text-anchor="middle">2010</text>
<line class="a" x1="228.94" x2="228.94" y1="483.2" y2="485.8"/>
<text class="t" x="228.94" y="495.7" text-anchor="middle">2015</text>
<line class="a" x1="280.27" x2="280.27" y1="483.2" y2="485.8"/>
<text class="t" x="280.27" y="495.7" text-anchor="middle">2020</text>
</g>
<g>
<text class="s" x="465.75" y="358" text-anchor="middle">West Coast South Island</text>
<line class="g" x1="338" x2="593.5" y1="372.76" y2="372.76"/>
<line class="g" x1="338" x2="593.5" y1="400.38" y2="400.38"/>
<line class="g" x1="338" x2="593.5" y1="428" y2="428"/>
<line class="g" x1="338" x2="593.5" y1="455.62" y2="455.62"/>
<line class="g" x1="338" x2="593.5" y1="483.24" y2="483.24"/>
<rect x="338" y="419.53" width="8.9" height="8.47" fill="#0A5C78"/>
<rect x="348.17" y="428" width="9" height="51.67" fill="#D7AE30"/>
<rect x="358.43" y="428" width="9" height="28.28" fill="#D7AE30"/>
<rect x="368.7" y="428" width="9" height="16.94" fill="#D7AE30"/>
<rect x="378.97" y="428" width="9" height="11.6" fill="#D7AE30"/>
<rect x="389.23" y="422.48" width="9" height="5.52" fill="#0A5C78"/>
<rect x="399.5" y="395.04" width="9" height="32.96" fill="#0A5C78"/>
<rect x="409.77" y="428" width="9" height="14.73" fill="#D7AE30"/>
<rect x="420.04" y="403.51" width="9" height="24.49" fill="#0A5C78"/>
<rect x="430.3" y="420.87" width="9" height="7.13" fill="#0A5C78"/>
<rect x="440.57" y="427.78" width="9" height="0.22" fill="#0A5C78"/>
<rect x="450.84" y="412.16" width="9" height="15.84" fill="#0A5C78"/>
<rect x="461.1" y="401.3" width="9" height="26.7" fill="#0A5C78"/>
<rect x="471.37" y="428" width="9" height="14.91" fill="#D7AE30"/>
<rect x="481.64" y="428" width="9" height="22.1" fill="#D7AE30"/>
<rect x="491.9" y="428" width="9" height="17.31" fill="#D7AE30"/>
<rect x="502.17" y="416.03" width="9" height="11.97" fill="#0A5C78"/>
<rect x="512.44" y="418.61" width="9" height="9.39" fill="#0A5C78"/>
<rect x="522.71" y="428" width="9" height="0.18" fill="#D7AE30"/>
<rect x="532.97" y="426.53" width="9" height="1.47" fill="#0A5C78"/>
<rect x="543.24" y="428" width="9" height="32.3" fill="#D7AE30"/>
<rect x="553.51" y="391.91" width="9" height="36.09" fill="#0A5C78"/>
<rect x="563.77" y="390.36" width="9" height="37.64" fill="#0A5C78"/>
<rect x="574.04" y="402.41" width="9" height="25.59" fill="#0A5C78"/>
<rect x="584.31" y="428" width="9" height="27.44" fill="#D7AE30"/>
<path class="b" d="M348.17 424.23C349.36 424.12 351.89 424.23 355.31 423.56C358.74 422.89 364.24 421.88 368.7 420.21C373.17 418.54 377.63 415.83 382.09 413.52C386.55 411.22 391.02 408.54 395.48 406.39C399.94 404.23 405.15 402.07 408.87 400.59C412.59 399.1 414.82 398.25 417.79 397.47C420.77 396.68 424.12 396.2 426.72 395.9C429.32 395.61 431.18 395.46 433.41 395.68C435.64 395.9 437.5 396.31 440.11 397.24C442.71 398.17 446.06 399.84 449.03 401.26C452.01 402.67 455.63 404.49 457.96 405.72C460.29 406.94 460.67 407.76 463 408.62C465.33 409.47 468.95 410.1 471.93 410.85C474.9 411.59 477.88 412.52 480.85 413.08C483.83 413.63 486.8 414.08 489.78 414.19C492.75 414.3 495.73 414.08 498.7 413.75C501.68 413.41 504.65 412.74 507.63 412.18C510.6 411.63 513.58 410.92 516.55 410.4C519.53 409.88 522.5 409.43 525.48 409.06C528.45 408.69 531.43 408.47 534.4 408.17C537.38 407.87 540.36 407.69 543.33 407.28C546.31 406.87 549.28 406.35 552.26 405.72C555.23 405.08 558.21 404.49 561.18 403.49C564.16 402.48 567.13 401.29 570.11 399.7C573.08 398.1 575.87 396.13 579.03 393.9C582.19 391.67 587.4 387.58 589.07 386.32L589.07 454.78C587.4 453.66 582.19 450.06 579.03 448.09C575.87 446.12 573.08 444.26 570.11 442.96C567.13 441.66 564.16 440.84 561.18 440.28C558.21 439.73 555.23 439.61 552.26 439.61C549.28 439.61 546.31 439.87 543.33 440.28C540.36 440.69 537.38 441.32 534.4 442.07C531.43 442.81 528.45 443.81 525.48 444.74C522.5 445.67 519.53 446.71 516.55 447.64C513.58 448.57 510.6 449.69 507.63 450.32C504.65 450.95 501.68 451.32 498.7 451.43C495.73 451.55 492.75 451.36 489.78 450.99C486.8 450.62 483.83 449.87 480.85 449.2C477.88 448.53 474.9 447.72 471.93 446.97C468.95 446.23 465.33 445.41 463 444.74C460.67 444.07 460.29 443.89 457.96 442.96C455.63 442.03 452.01 440.43 449.03 439.17C446.06 437.9 442.71 436.23 440.11 435.38C437.5 434.52 435.64 434.22 433.41 434.04C431.18 433.85 429.32 433.96 426.72 434.26C424.12 434.56 420.77 435.12 417.79 435.82C414.82 436.53 412.59 437.31 408.87 438.5C405.15 439.69 399.94 441.18 395.48 442.96C391.02 444.74 386.55 446.79 382.09 449.2C377.63 451.62 371.86 455.22 368.7 457.45C365.54 459.68 364.98 460.73 363.12 462.58C361.26 464.44 359.4 466.56 357.55 468.61C355.69 470.65 353.53 473.03 351.97 474.85C350.4 476.67 348.81 478.75 348.17 479.53Z"/>
<path class="l" d="M342.37 455.45C344.53 454.04 350.93 449.69 355.31 446.97C359.7 444.26 364.24 441.7 368.7 439.17C373.17 436.64 377.63 434.04 382.09 431.81C386.55 429.58 391.02 427.61 395.48 425.79C399.94 423.97 405.15 422.26 408.87 420.88C412.59 419.51 414.82 418.47 417.79 417.54C420.77 416.61 424.12 415.75 426.72 415.31C429.32 414.86 431.18 414.71 433.41 414.86C435.64 415.01 437.5 415.38 440.11 416.2C442.71 417.02 446.06 418.54 449.03 419.77C452.01 420.99 455.63 422.63 457.96 423.56C460.29 424.49 460.67 424.6 463 425.34C465.33 426.08 468.95 427.13 471.93 428.02C474.9 428.91 477.88 429.99 480.85 430.69C483.83 431.4 486.8 431.99 489.78 432.25C492.75 432.52 495.73 432.48 498.7 432.25C501.68 432.03 504.65 431.47 507.63 430.92C510.6 430.36 513.58 429.54 516.55 428.91C519.53 428.28 522.5 427.65 525.48 427.13C528.45 426.61 531.43 426.23 534.4 425.79C537.38 425.34 540.36 424.9 543.33 424.45C546.31 424 549.28 423.56 552.26 423.11C555.23 422.67 558.21 422.15 561.18 421.77C564.16 421.4 567.13 421.14 570.11 420.88C573.08 420.62 576.62 420.36 579.03 420.21C581.45 420.06 583.68 420.03 584.61 419.99"/>
<line class="a" x1="338" x2="593.5" y1="483.2" y2="483.2"/>
<line class="a" x1="362.93" x2="362.93" y1="483.2" y2="485.8"/>
<text class="t" x="362.93" y="495.7" text-anchor="middle">2000</text>
<line class="a" x1="414.27" x2="414.27" y1="483.2" y2="485.8"/>
<text class="t" x="414.27" y="495.7" text-anchor="middle">2005</text>
<line class="a" x1="465.6" x2="465.6" y1="483.2" y2="485.8"/>
<text class="t" x="465.6" y="495.7" text-anchor="middle">2010</text>
<line class="a" x1="516.94" x2="516.94" y1="483.2" y2="485.8"/>
<text class="t" x="516.94" y="495.7" text-anchor="middle">2015</text>
<line class="a" x1="568.27" x2="568.27" y1="483.2" y2="485.8"/>
<text class="t" x="568.27" y="495.7" text-anchor="middle">2020</text>
</g>
<g>
<text class="s" x="754.15" y="358" text-anchor="middle">Western North Island</text>
<line class="g" x1="626.4" x2="881.9" y1="372.76" y2="372.76"/>
<line class="g" x1="626.4" x2="881.9" y1="400.38" y2="400.38"/>
<line class="g" x1="626.4" x2="881.9" y1="428" y2="428"/>
<line class="g" x1="626.4" x2="881.9" y1="455.62" y2="455.62"/>
<line class="g" x1="626.4" x2="881.9" y1="483.24" y2="483.24"/>
<rect x="626.4" y="428" width="8.9" height="28.72" fill="#D7AE30"/>
<rect x="636.57" y="428" width="9" height="26.88" fill="#D7AE30"/>
<rect x="646.83" y="428" width="9" height="8.84" fill="#D7AE30"/>
<rect x="657.1" y="428" width="9" height="28.72" fill="#D7AE30"/>
<rect x="667.37" y="428" width="9" height="27.8" fill="#D7AE30"/>
<rect x="677.63" y="417.5" width="9" height="10.5" fill="#0A5C78"/>
<rect x="687.9" y="422.2" width="9" height="5.8" fill="#0A5C78"/>
<rect x="698.17" y="428" width="9" height="8.65" fill="#D7AE30"/>
<rect x="708.44" y="422.84" width="9" height="5.16" fill="#0A5C78"/>
<rect x="718.7" y="428" width="9" height="4.6" fill="#D7AE30"/>
<rect x="728.97" y="428" width="9" height="1.29" fill="#D7AE30"/>
<rect x="739.24" y="417.5" width="9" height="10.5" fill="#0A5C78"/>
<rect x="749.5" y="403.33" width="9" height="24.67" fill="#0A5C78"/>
<rect x="759.77" y="415.11" width="9" height="12.89" fill="#0A5C78"/>
<rect x="770.04" y="427.45" width="9" height="0.55" fill="#0A5C78"/>
<rect x="780.3" y="428" width="9" height="11.36" fill="#D7AE30"/>
<rect x="790.57" y="428" width="9" height="2.39" fill="#D7AE30"/>
<rect x="800.84" y="408.67" width="9" height="19.33" fill="#0A5C78"/>
<rect x="811.11" y="428" width="9" height="2.39" fill="#D7AE30"/>
<rect x="821.37" y="387.31" width="9" height="40.69" fill="#0A5C78"/>
<rect x="831.64" y="411.98" width="9" height="16.02" fill="#0A5C78"/>
<rect x="841.91" y="421.74" width="9" height="6.26" fill="#0A5C78"/>
<rect x="852.17" y="420.87" width="9" height="7.13" fill="#0A5C78"/>
<rect x="862.44" y="425.05" width="9" height="2.95" fill="#0A5C78"/>
<rect x="872.71" y="428" width="9" height="4.9" fill="#D7AE30"/>
<path class="b" d="M630.82 439.17C632.9 438.98 639 438.61 643.31 438.05C647.63 437.5 652.24 436.94 656.7 435.82C661.17 434.71 665.63 433.15 670.09 431.36C674.55 429.58 679.02 427.16 683.48 425.12C687.94 423.07 693.15 420.66 696.87 419.1C700.59 417.54 702.82 416.76 705.79 415.75C708.77 414.75 711.74 413.75 714.72 413.08C717.69 412.41 720.67 411.96 723.64 411.74C726.62 411.52 729.6 411.55 732.57 411.74C735.55 411.92 738.52 412.44 741.5 412.85C744.47 413.26 748.84 413.86 750.42 414.19C752.01 414.53 749.42 415.05 751 414.86C752.58 414.67 756.95 413.6 759.93 413.08C762.9 412.56 765.88 412.11 768.85 411.74C771.83 411.37 774.8 411.11 777.78 410.85C780.75 410.59 783.73 410.44 786.7 410.18C789.68 409.92 792.65 409.58 795.63 409.28C798.6 408.99 801.58 408.65 804.55 408.39C807.53 408.13 810.5 407.84 813.48 407.72C816.45 407.61 819.43 407.61 822.4 407.72C825.38 407.84 828.36 408.13 831.33 408.39C834.31 408.65 837.28 409.02 840.26 409.28C843.23 409.55 846.21 409.84 849.18 409.95C852.16 410.07 855.13 410.07 858.11 409.95C861.08 409.84 863.87 409.55 867.03 409.28C870.19 409.02 875.4 408.54 877.07 408.39L877.07 446.53C875.4 445.41 870.19 441.81 867.03 439.84C863.87 437.87 861.08 436.12 858.11 434.71C855.13 433.3 852.16 432.25 849.18 431.36C846.21 430.47 843.23 429.88 840.26 429.36C837.28 428.84 834.31 428.54 831.33 428.24C828.36 427.94 825.38 427.72 822.4 427.57C819.43 427.42 816.45 427.39 813.48 427.35C810.5 427.31 807.53 427.24 804.55 427.35C801.58 427.46 798.6 427.79 795.63 428.02C792.65 428.24 789.68 428.5 786.7 428.69C783.73 428.87 780.75 429.06 777.78 429.13C774.8 429.21 771.83 429.17 768.85 429.13C765.88 429.1 762.9 428.87 759.93 428.91C756.95 428.95 752.58 429.28 751 429.36C749.42 429.43 752.01 429.36 750.42 429.36C748.84 429.36 744.47 429.24 741.5 429.36C738.52 429.47 735.55 429.69 732.57 430.02C729.6 430.36 726.62 430.77 723.64 431.36C720.67 431.96 717.69 432.78 714.72 433.59C711.74 434.41 708.77 435.45 705.79 436.27C702.82 437.09 700.59 437.64 696.87 438.5C693.15 439.35 687.94 440.17 683.48 441.4C679.02 442.62 674.55 443.81 670.09 445.86C665.63 447.9 661.17 450.58 656.7 453.66C652.24 456.75 647.63 460.47 643.31 464.37C639 468.27 632.9 474.96 630.82 477.08Z"/>
<path class="l" d="M630.82 458.12C632.9 457.01 639 453.66 643.31 451.43C647.63 449.2 652.24 446.9 656.7 444.74C661.17 442.59 665.63 440.36 670.09 438.5C674.55 436.64 679.02 435.15 683.48 433.59C687.94 432.03 693.15 430.36 696.87 429.13C700.59 427.91 702.82 427.16 705.79 426.23C708.77 425.3 711.74 424.3 714.72 423.56C717.69 422.81 720.67 422.22 723.64 421.77C726.62 421.33 729.6 421.03 732.57 420.88C735.55 420.73 738.52 420.77 741.5 420.88C744.47 420.99 748.84 421.36 750.42 421.55C752.01 421.74 749.42 421.96 751 422C752.58 422.03 756.95 421.88 759.93 421.77C762.9 421.66 765.88 421.51 768.85 421.33C771.83 421.14 774.8 420.92 777.78 420.66C780.75 420.4 783.73 420.1 786.7 419.77C789.68 419.43 792.65 418.95 795.63 418.65C798.6 418.35 801.58 418.13 804.55 417.98C807.53 417.83 810.5 417.8 813.48 417.76C816.45 417.72 819.43 417.68 822.4 417.76C825.38 417.83 828.36 417.98 831.33 418.21C834.31 418.43 837.28 418.73 840.26 419.1C843.23 419.47 846.21 419.92 849.18 420.44C852.16 420.96 855.13 421.55 858.11 422.22C861.08 422.89 863.87 423.59 867.03 424.45C870.19 425.3 875.4 426.87 877.07 427.35"/>
<line class="a" x1="626.4" x2="881.9" y1="483.2" y2="483.2"/>
<line class="a" x1="651.33" x2="651.33" y1="483.2" y2="485.8"/>
<text class="t" x="651.33" y="495.7" text-anchor="middle">2000</text>
<line class="a" x1="702.67" x2="702.67" y1="483.2" y2="485.8"/>
<text class="t" x="702.67" y="495.7" text-anchor="middle">2005</text>
<line class="a" x1="754" x2="754" y1="483.2" y2="485.8"/>
<text class="t" x="754" y="495.7" text-anchor="middle">2010</text>
<line class="a" x1="805.34" x2="805.34" y1="483.2" y2="485.8"/>
<text class="t" x="805.34" y="495.7" text-anchor="middle">2015</text>
<line class="a" x1="856.67" x2="856.67" y1="483.2" y2="485.8"/>
<text class="t" x="856.67" y="495.7" text-anchor="middle">2020</text>
</g>
<text class="s" x="466" y="513" text-anchor="middle">Year</text>
<text class="s" transform="translate(12.3 256.5) rotate(-90)" text-anchor="middle">CHl-a anomaly (mg/m³)</text>
<text class="s" x="876" y="530" text-anchor="end">Dotted black line and shaded confidence area shows locally</text>
<text class="s" x="876" y="539.6" text-anchor="end">weighted running line smoother (LOESS) and 95% confidence interval.</text>
<text class="s" x="873.5" y="559" text-anchor="end">Source: Stats NZ</text>
</svg></body></html>
